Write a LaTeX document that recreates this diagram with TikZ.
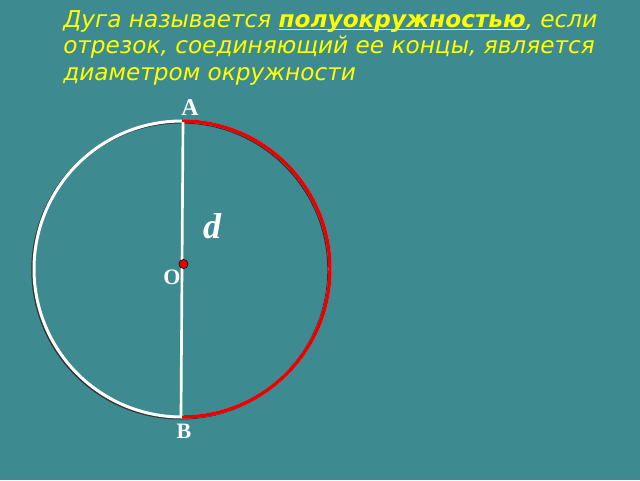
\documentclass[tikz,border=0pt]{standalone}
\usepackage{fontspec}
\setmainfont{Liberation Serif}
\newfontfamily\slidefont{DejaVu Sans}
\definecolor{slideteal}{RGB}{61,139,145}
\definecolor{slideyellow}{RGB}{255,255,0}
\definecolor{arcred}{RGB}{235,0,0}
\newcommand{\slideul}[1]{\setbox0\hbox{#1}\rlap{\raisebox{-2.6pt}{\rule{\wd0}{1.3pt}}}\box0}
\tikzset{
	slidetext/.style={anchor=base west, inner sep=0.75pt, text=slideyellow, font=\slidefont\itshape\fontsize{17.4}{20}\selectfont},
	ptlabel/.style={inner sep=0.75pt, text=white, font=\bfseries\fontsize{16.5}{18}\selectfont},
}
\begin{document}
\begin{tikzpicture}[x=0.75pt,y=0.75pt,yscale=-1,xscale=1]
	\fill [slideteal] (0,0) rectangle (640,480);
	\useasboundingbox (0,0) rectangle (640,480);
	% points
	\coordinate (ctr) at (182,269);
	\coordinate (arcTop) at (182,121);
	\coordinate (ptA) at (183,122);
	\coordinate (ptB) at (181,416);
	% circle
	\draw [black!80, line width=2.25] (180.8,270) circle [radius=148];
	\draw [white, line width=2.25] (ctr) circle [radius=148];
	\draw [arcred, line width=2.6] (arcTop) arc [start angle=-90, end angle=90, radius=148];
	\draw [white, line width=2] (ptA) -- (ptB);
	\draw [black, fill=arcred, line width=0.4] (183.5,264) circle [radius=4.6];
	% labels
	\node [ptlabel, font=\bfseries\fontsize{18}{20}\selectfont] (lblA) at (190,108) {A};
	\node [ptlabel] (lblO) at (172,277) {O};
	\node [ptlabel] (lblB) at (184,431) {B};
	\node [ptlabel, font=\bfseries\itshape\fontsize{27}{30}\selectfont] (lbld) at (212,226) {d};
	% caption
	\node [slidetext] (line1) at (62,27) {Дуга называется {\bfseries\slideul{полуокружностью}}, если};
	\node [slidetext] (line2) at (62,53.5) {отрезок, соединяющий ее концы, является};
	\node [slidetext] (line3) at (62,80) {диаметром окружности};
\end{tikzpicture}
\end{document}
